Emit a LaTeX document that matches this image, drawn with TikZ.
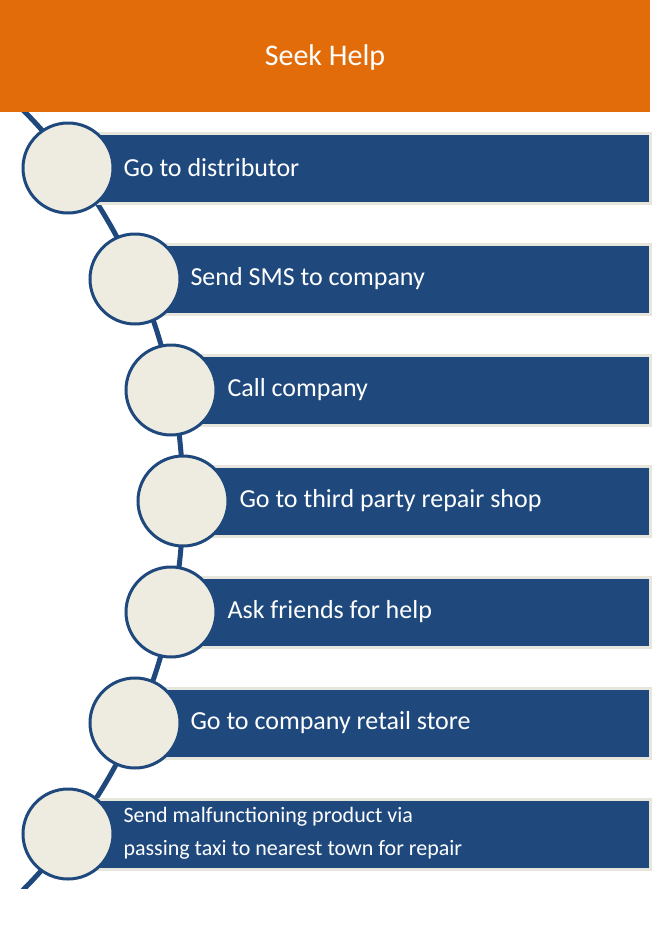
\documentclass[tikz,border=0pt]{standalone}
\usepackage{fontspec}
\setmainfont{Carlito}
\definecolor{hdr}{HTML}{E36C0A}
\definecolor{barblue}{HTML}{1F497D}
\definecolor{circfill}{HTML}{EEECE1}
\definecolor{barline}{HTML}{E6E6DC}
\begin{document}
\begin{tikzpicture}[x=1pt,y=-1pt,
  bar/.style={fill=barblue,draw=barline,line width=3pt},
  dot/.style={circle,fill=circfill,draw=barblue,line width=3pt,minimum size=90pt,inner sep=0pt},
  lbl/.style={text=white,anchor=west,font=\fontsize{26}{30}\selectfont}]
\useasboundingbox (0,0) rectangle (662,938);
\fill[hdr] (0,0) rectangle (650,112);
\node[text=white,font=\fontsize{30}{34}\selectfont] (hdr) at (325,57) {Seek Help};
\begin{scope}
\clip (0,112) rectangle (300,888);
\draw[barblue,line width=5pt] (-372.4,500) circle (555.4);
\end{scope}
\foreach \cx/\cy/\i in {68/168/1,135/279/2,171/390/3,183/501/4,171/612/5,135/723/6,68/834/7}{
  \draw[bar] (\cx,\cy-35) rectangle (650,\cy+35);
  \node[dot] (c\i) at (\cx,\cy) {};
}
\node[lbl] (t1) at (120,168) {Go to distributor};
\node[lbl] (t2) at (187,279) {Send SMS to company};
\node[lbl] (t3) at (224,390) {Call company};
\node[lbl] (t4) at (236,501) {Go to third party repair shop};
\node[lbl] (t5) at (224,612) {Ask friends for help};
\node[lbl] (t6) at (187,723) {Go to company retail store};
\node[lbl,align=left,font=\fontsize{22}{33}\selectfont] (t7) at (120,833) {Send malfunctioning product via\\passing taxi to nearest town for repair};
\end{tikzpicture}
\end{document}
